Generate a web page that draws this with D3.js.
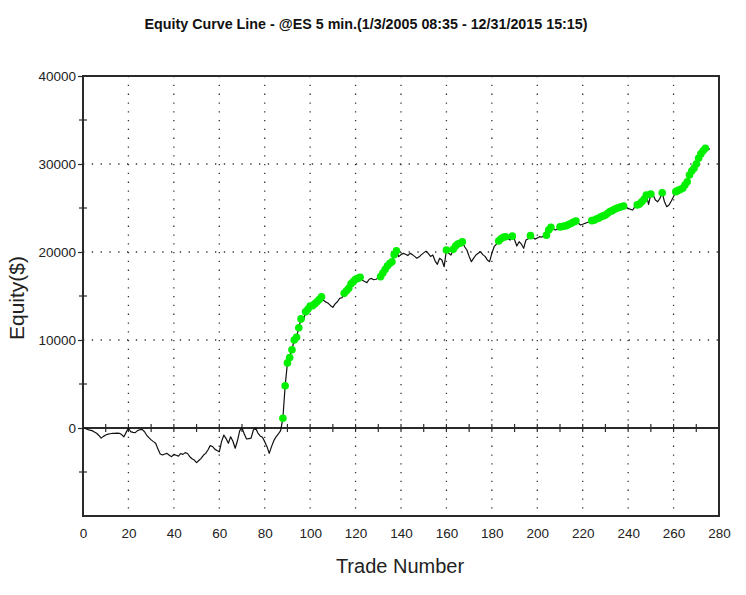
<!DOCTYPE html>
<html>
<head>
<meta charset="utf-8">
<script src="https://cdn.jsdelivr.net/npm/d3@7"></script>
<style>
  html, body { margin: 0; padding: 0; background: #fff; }
  svg { display: block; font-family: "Liberation Sans", Arial, sans-serif; }
</style>
</head>
<body>
<svg id="chart" width="746" height="595"></svg>
<script>
// ---- data ----
const title = "Equity Curve Line - @ES 5 min.(1/3/2005 08:35 - 12/31/2015 15:15)";
const xLabel = "Trade Number";
const yLabel = "Equity($)";
const xTickLabels = [0, 20, 40, 60, 80, 100, 120, 140, 160, 180, 200, 220, 240, 260, 280];
const yTickLabels = [0, 10000, 20000, 30000, 40000];
const yDomain = [-10000, 40000];
const xDomain = [0, 280];
// equity after each trade (index = trade number)
const equity = [
  0, -50, -150, -250, -300, -450, -600, -850, -1150, -950,
  -800, -700, -650, -600, -620, -580, -600, -750, -1000, -500,
  0, -420, -500, -530, -300, -200, -150, -400, -800, -1100,
  -1350, -1550, -1740, -2400, -2950, -3070, -2950, -2880, -3100, -3260,
  -3000, -3100, -3200, -2900, -3000, -2800, -2900, -3260, -3500, -3640,
  -3940, -3700, -3450, -3100, -2880, -2500, -2000, -2100, -2400, -2550,
  -2700, -1550, -800, -1200, -1740, -1000, -1500, -2300, -1450, -300,
  0, -680, -1250, -1200, -1150, -230, 0, -580, -900, -1060,
  -1550, -2120, -2880, -2120, -1440, -1000, -680, -300, 1100, 4800,
  7400, 8000, 8900, 10000, 10300, 11400, 12400, 12200, 13200, 13500,
  13850, 13900, 14100, 14350, 14600, 14920, 14480, 14300, 14170, 13900,
  13710, 14100, 14350, 14730, 14800, 15300, 15600, 15870, 16400, 16630,
  16890, 17000, 17120, 16800, 16650, 16520, 16900, 17000, 16850, 16900,
  17050, 17200, 17600, 18000, 18400, 18700, 18900, 19700, 20150, 19470,
  19700, 19850, 19750, 19600, 19850, 19700, 19500, 19300, 19450, 19700,
  19900, 20100, 19850, 19500, 19660, 19000, 18600, 19280, 19090, 18330,
  20230, 19850, 19660, 20300, 20680, 20900, 21000, 21170, 20600, 20230,
  19500, 18900, 19300, 19660, 19850, 20040, 19700, 19500, 19100, 18900,
  19850, 20600, 20900, 21250, 21500, 21670, 21740, 21550, 21360, 21800,
  21400, 20680, 21170, 20900, 20420, 21360, 21500, 21860, 21700, 21460,
  21600, 21740, 21700, 21800, 21900, 22500, 22800, 22650, 22500, 22600,
  22850, 22900, 22950, 23000, 23150, 23260, 23400, 23520, 23300, 23070,
  23150, 23260, 23350, 23450, 23560, 23600, 23750, 23830, 24000, 24100,
  24200, 24400, 24600, 24700, 24850, 24960, 25050, 25150, 25230, 25100,
  24960, 24850, 24770, 25150, 25350, 25450, 25710, 26000, 26480, 25400,
  26590, 26480, 25900, 25710, 26100, 26740, 25710, 25150, 25340, 25800,
  26300, 26860, 27000, 27100, 27240, 27600, 27990, 28750, 29200, 29510,
  30000, 30650, 31150, 31500, 31780, 31750, 31700
];

// ---- layout ----
const svg = d3.select("#chart");
const L = 83, R = 719, T = 76, B = 516;
const x = d3.scaleLinear().domain(xDomain).range([L, R]);
const y = d3.scaleLinear().domain(yDomain).range([B, T]);
const ink = "#2a2a2a";

// title
svg.append("text").attr("x", 366).attr("y", 29).attr("text-anchor", "middle")
  .attr("font-size", 14.3).attr("font-weight", "bold").attr("fill", "#111").text(title);

// dotted grid
const g = svg.append("g");
g.selectAll("line.vg").data(xTickLabels.filter(d => d > 0 && d < 280)).join("line")
  .attr("x1", d => x(d)).attr("x2", d => x(d)).attr("y1", T).attr("y2", B)
  .attr("stroke", "#333").attr("stroke-width", 1.3).attr("stroke-dasharray", "1.3,7.5");
g.selectAll("line.hg").data([10000, 20000, 30000]).join("line")
  .attr("x1", L).attr("x2", R).attr("y1", d => y(d)).attr("y2", d => y(d))
  .attr("stroke", "#333").attr("stroke-width", 1.3).attr("stroke-dasharray", "1.3,7.5");

// zero line with crossing ticks every 10 trades
svg.append("line").attr("x1", L).attr("x2", R).attr("y1", y(0)).attr("y2", y(0))
  .attr("stroke", ink).attr("stroke-width", 2);
const zt = d3.range(10, 280, 10);
svg.selectAll("line.zt").data(zt).join("line")
  .attr("x1", d => x(d)).attr("x2", d => x(d)).attr("y1", y(0) - 4).attr("y2", y(0) + 4)
  .attr("stroke", ink).attr("stroke-width", 1.2);

// frame
svg.append("rect").attr("x", L).attr("y", T).attr("width", R - L).attr("height", B - T)
  .attr("fill", "none").attr("stroke", ink).attr("stroke-width", 2);

// y axis labels + ticks
const yAxis = d3.axisLeft(y).tickValues(yTickLabels).tickFormat(d3.format("d"))
  .tickSize(5).tickPadding(2);
const ya = svg.append("g").attr("transform", `translate(${L},0)`).call(yAxis);
ya.select(".domain").remove();
ya.selectAll(".tick line").attr("stroke", ink).attr("stroke-width", 1.2);
ya.selectAll(".tick text").attr("font-size", 13.5).attr("fill", "#222")
  .attr("font-family", "'Liberation Sans', Arial, sans-serif");
// minor crossing ticks
const minor = [-5000, 5000, 15000, 25000, 35000];
svg.selectAll("line.ym").data(minor).join("line")
  .attr("x1", L - 4).attr("x2", L + 4).attr("y1", d => y(d)).attr("y2", d => y(d))
  .attr("stroke", ink).attr("stroke-width", 1.2);

// x axis labels
const xAxis = d3.axisBottom(x).tickValues(xTickLabels).tickFormat(d3.format("d"))
  .tickSize(0).tickPadding(12);
const xa = svg.append("g").attr("transform", `translate(0,${B})`).call(xAxis);
xa.select(".domain").remove();
xa.selectAll(".tick text").attr("font-size", 13.5).attr("fill", "#222")
  .attr("font-family", "'Liberation Sans', Arial, sans-serif");

// axis titles
svg.append("text").attr("x", 400).attr("y", 573).attr("text-anchor", "middle")
  .attr("font-size", 20).attr("fill", "#222").text(xLabel);
svg.append("text").attr("transform", "translate(24,298) rotate(-90)").attr("text-anchor", "middle")
  .attr("font-size", 21).attr("fill", "#222").text(yLabel);

// equity line
const line = d3.line().x((d, i) => x(i)).y(d => y(d));
svg.append("path").datum(equity).attr("d", line)
  .attr("fill", "none").attr("stroke", "#111").attr("stroke-width", 1.2)
  .attr("stroke-linejoin", "round");

// new equity highs
let runMax = equity[0];
const highs = [];
equity.forEach((v, i) => { if (v > runMax) { highs.push(i); runMax = v; } });
svg.selectAll("circle.hi").data(highs).join("circle")
  .attr("cx", i => x(i)).attr("cy", i => y(equity[i])).attr("r", 3.8)
  .attr("fill", "#00f000");
</script>
</body>
</html>
